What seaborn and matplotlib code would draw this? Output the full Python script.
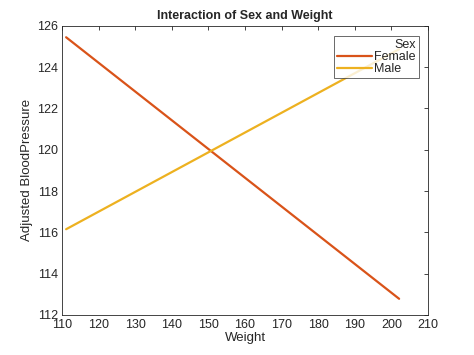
import matplotlib
matplotlib.use("Agg")
import matplotlib.pyplot as plt
import pandas as pd
import seaborn as sns

# fitted interaction lines, two end points per group
weight = [111.1, 202.1]
bp_female = [125.45, 112.78]
bp_male = [116.15, 124.87]
groups = ["Female", "Male"]

df = pd.DataFrame({
    "Weight": weight + weight,
    "BP": bp_female + bp_male,
    "Sex": [groups[0]] * 2 + [groups[1]] * 2,
})

sns.set_style("white")
plt.rcParams["font.family"] = ["Liberation Sans", "DejaVu Sans"]

fig = plt.figure(figsize=(4.74, 3.55), dpi=100)
ax = fig.add_axes([0.131, 0.113, 0.772, 0.814])

sns.lineplot(
    data=df, x="Weight", y="BP", hue="Sex",
    palette={"Female": "#D95319", "Male": "#EDB120"},
    linewidth=1.6, ax=ax
)

ax.set_xlim(110, 210)
ax.set_ylim(112, 126)
ax.set_xticks(range(110, 211, 10))
ax.set_yticks(range(112, 127, 2))
ax.tick_params(direction="in", length=3, width=0.6, top=True, right=True,
               labelsize=9, colors="#262626", pad=3)
for s in ax.spines.values():
    s.set_color("#262626")
    s.set_linewidth(0.6)
    s.set_visible(True)

ax.set_xlabel("Weight", fontsize=9.5, color="#262626", labelpad=1)
ax.set_ylabel("Adjusted BloodPressure", fontsize=9.5, color="#262626", labelpad=3)
ax.set_title("Interaction of Sex and Weight", fontsize=9, fontweight="bold", pad=5)

leg = ax.legend(title="Sex", loc="upper right", fontsize=9, title_fontsize=9,
                frameon=True, fancybox=False, borderaxespad=0,
                handlelength=2.8, handletextpad=0.15, borderpad=0.25,
                labelspacing=0.0, bbox_to_anchor=(0.975, 0.965))
leg.get_frame().set_edgecolor("#262626")
leg.get_frame().set_linewidth(0.6)
leg._legend_box.align = "right"

fig.savefig("out.png", dpi=100)
